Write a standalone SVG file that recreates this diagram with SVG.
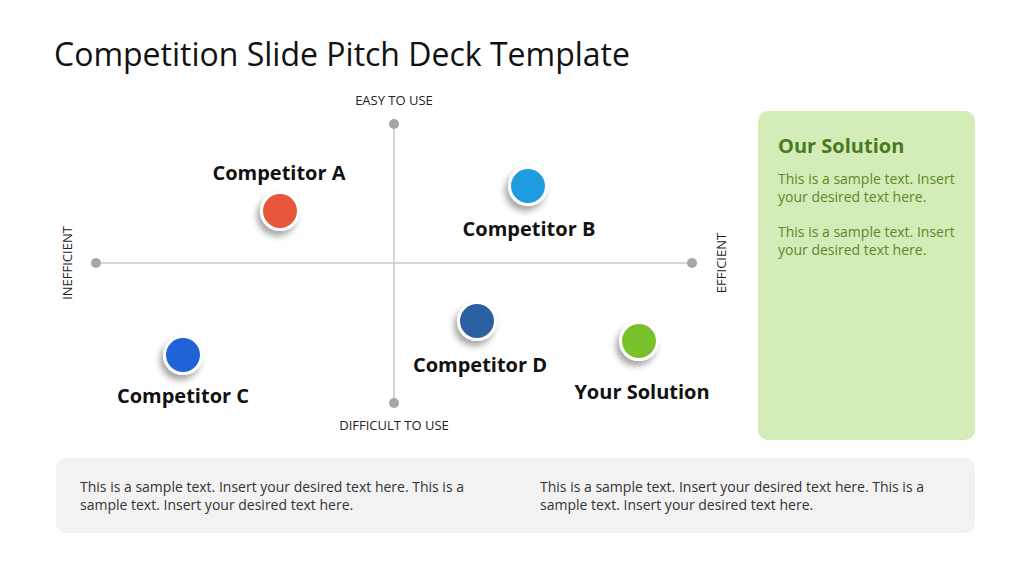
<svg xmlns="http://www.w3.org/2000/svg" width="1024" height="576" viewBox="0 0 1024 576">
<defs>
<filter id="sh" x="-50%" y="-50%" width="200%" height="200%"><feDropShadow dx="-3" dy="5" stdDeviation="3" flood-color="#000" flood-opacity="0.35"/></filter>
<style>
.t{font-family:"Open Sans","Liberation Sans",sans-serif}
.ax{font-size:13px;fill:#222}
.lb{font-size:20px;font-weight:bold;fill:#111}
.sm{font-size:14px;fill:#333}
.gr{font-size:14px;fill:#5a8a2a}
</style>
</defs>
<rect width="1024" height="576" fill="#fff"/>
<text class="t" x="54" y="66" font-size="32" fill="#111">Competition Slide Pitch Deck Template</text>
<g id="connectors" stroke="#c8c8c8" stroke-width="1.5">
<line x1="394" y1="124" x2="394" y2="403"/>
<line x1="96" y1="263" x2="692" y2="263"/>
<g fill="#a6a6a6" stroke="none"><circle cx="394" cy="124" r="5"/><circle cx="394" cy="403" r="5"/><circle cx="96" cy="263" r="5"/><circle cx="692" cy="263" r="5"/></g>
</g>
<g id="axis-labels" class="t ax">
<text x="394" y="105" text-anchor="middle">EASY TO USE</text>
<text x="394" y="430" text-anchor="middle">DIFFICULT TO USE</text>
<text transform="translate(72,263) rotate(-90)" text-anchor="middle">INEFFICIENT</text>
<text transform="translate(726,263) rotate(-90)" text-anchor="middle">EFFICIENT</text>
</g>
<g id="compA"><circle cx="280" cy="211" r="20" fill="#fff" filter="url(#sh)"/><circle cx="280" cy="211" r="17" fill="#e8563a"/><text class="t lb" x="279" y="180" text-anchor="middle">Competitor A</text></g>
<g id="compB"><circle cx="528" cy="186" r="20" fill="#fff" filter="url(#sh)"/><circle cx="528" cy="186" r="17" fill="#1f9be0"/><text class="t lb" x="529" y="236" text-anchor="middle">Competitor B</text></g>
<g id="compC"><circle cx="183" cy="355" r="20" fill="#fff" filter="url(#sh)"/><circle cx="183" cy="355" r="17" fill="#1f63d6"/><text class="t lb" x="183" y="403" text-anchor="middle">Competitor C</text></g>
<g id="compD"><circle cx="477" cy="321" r="20" fill="#fff" filter="url(#sh)"/><circle cx="477" cy="321" r="17" fill="#2a60a0"/><text class="t lb" x="480" y="372" text-anchor="middle">Competitor D</text></g>
<g id="yours"><circle cx="639" cy="341" r="20" fill="#fff" filter="url(#sh)"/><circle cx="639" cy="341" r="17" fill="#78c12a"/><text class="t lb" x="642" y="399" text-anchor="middle">Your Solution</text></g>
<g id="our-solution">
<rect x="758" y="111" width="217" height="329" rx="10" fill="#d4ecb8"/>
<text class="t" x="778" y="153" font-size="20" font-weight="bold" fill="#4a7a20">Our Solution</text>
<text class="t gr" x="778" y="184">This is a sample text. Insert</text>
<text class="t gr" x="778" y="202">your desired text here.</text>
<text class="t gr" x="778" y="237">This is a sample text. Insert</text>
<text class="t gr" x="778" y="255">your desired text here.</text>
</g>
<g id="bottom">
<rect x="56" y="458" width="919" height="75" rx="10" fill="#f2f2f2"/>
<text class="t sm" x="80" y="492">This is a sample text. Insert your desired text here. This is a</text>
<text class="t sm" x="80" y="510">sample text. Insert your desired text here.</text>
<text class="t sm" x="540" y="492">This is a sample text. Insert your desired text here. This is a</text>
<text class="t sm" x="540" y="510">sample text. Insert your desired text here.</text>
</g>
</svg>
